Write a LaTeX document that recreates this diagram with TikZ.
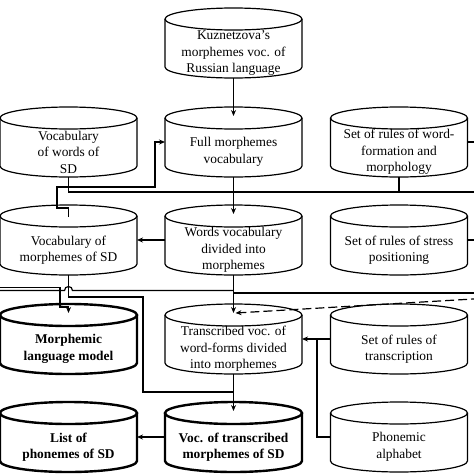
\documentclass[tikz,border=0pt]{standalone}
\usepackage{fontspec}
\setmainfont{Liberation Serif}
\usetikzlibrary{arrows.meta}
\tikzset{
  cylbox/.style={rectangle, draw=none, inner sep=0pt, outer sep=0pt, minimum width=137pt, minimum height=70pt},
  cyltext/.style={align=center, inner sep=0pt, font=\fontsize{13.4}{16.5}\selectfont},
  boldtext/.style={font=\fontsize{13.4}{16.5}\selectfont\bfseries},
  cylline/.style={line width=1.2pt},
  boldline/.style={line width=2.4pt},
  link/.style={line width=1.2pt},
  conn/.style={line width=1.2pt, -{Stealth[length=6pt,width=5pt]}},
}
\newcommand{\cylnode}[5]{%
  \node[cylbox] (#1) at (#2) {};
  \node[cyltext,#4] (#1-t) at ([yshift=-10pt]#1.center) {#3};
  \draw[#5] ([yshift=-11pt]#1.north west) -- ([yshift=11pt]#1.south west)
     arc[start angle=180, end angle=360, x radius=68.5pt, y radius=11pt]
     -- ([yshift=-11pt]#1.north east);
  \draw[#5] ([yshift=-11pt]#1.north) ellipse[x radius=68.5pt, y radius=11pt];
}
\begin{document}
\begin{tikzpicture}[x=1pt,y=-1pt]
\useasboundingbox (0,0) rectangle (474,474);
\clip (0,0) rectangle (474,474);
\fill[white] (0,0) rectangle (474,474);
% cylinders
\cylnode{K}{233.5,43}{Kuznetzova’s\\morphemes voc. of\\Russian language}{}{cylline}
\cylnode{VW}{68.5,142}{Vocabulary\\of words of\\SD}{}{cylline}
\cylnode{FM}{233.5,142}{Full morphemes\\vocabulary}{}{cylline}
\cylnode{WF}{399,142}{Set of rules of word-\\formation and\\morphology}{}{cylline}
\cylnode{VM}{68.5,240}{Vocabulary of\\morphemes of SD}{}{cylline}
\cylnode{WV}{233.5,240}{Words vocabulary\\divided into\\morphemes}{}{cylline}
\cylnode{SP}{399,240}{Set of rules of stress\\positioning}{}{cylline}
\cylnode{ML}{68.5,339}{Morphemic\\language model}{boldtext}{boldline}
\cylnode{TV}{233.5,339}{Transcribed voc. of\\word-forms divided\\into morphemes}{}{cylline}
\cylnode{TR}{399,339}{Set of rules of\\transcription}{}{cylline}
\cylnode{LP}{68.5,437}{List of\\phonemes of SD}{boldtext}{boldline}
\cylnode{VT}{233.5,437}{Voc. of transcribed\\morphemes of SD}{boldtext}{boldline}
\cylnode{PA}{399,437}{Phonemic\\alphabet}{}{cylline}
% free ends and joints
\coordinate (eR1) at (480,192);
\coordinate (eR2) at (480,293);
\coordinate (eR3) at (480,298.6);
\coordinate (eL1) at (-5,290.5);
\coordinate (eL2) at (-5,287.5);
\coordinate (j1) at (143,392);
\coordinate (j2) at (317,339);
% connectors
\draw[conn] (K.south) -- ([yshift=-9pt]FM.north);
\draw[link] (VW.south) |- (eR1);
\draw[link] (WF.south) -- (WF.south |- eR1);
\draw[conn] ([yshift=-12pt]VM.north) -- ++(0,-9) -| (57,187) -| (155,142) -- (FM.west);
\draw[conn] (FM.south) -- ([yshift=-9pt]WV.north);
\draw[conn] (WV.west) -- (VM.east);
\draw[conn] (WV.south) -- ([yshift=-9pt]TV.north);
\draw[link] (WV.south |- eL1) -- (72.5,290.5) arc[start angle=0, end angle=180, radius=4pt] -- (eL1);
\draw[link] (WV.south |- eR2) -- (eR2);
\draw[conn] (eL2) -- (60,287.5) -- (60,307) -- (68.5,307) -- ([yshift=-9pt]ML.north);
\draw[link] (VM.south) |- (143,297) -- (j1) -- (TV.south |- j1);
\draw[conn] (TV.south) -- ([yshift=-9pt]VT.north);
\draw[conn, dash pattern=on 9pt off 4pt] (eR3) -- ([xshift=2pt,yshift=-9pt]TV.north);
\draw[conn] (TR.west) -- (TV.east);
\draw[link] (PA.west) -| (j2);
\draw[conn] (VT.west) -- (LP.east);
\draw[link] (WF.east) -- ++(12,0);
\draw[link] (SP.east) -- ++(12,0);
\end{tikzpicture}
\end{document}
